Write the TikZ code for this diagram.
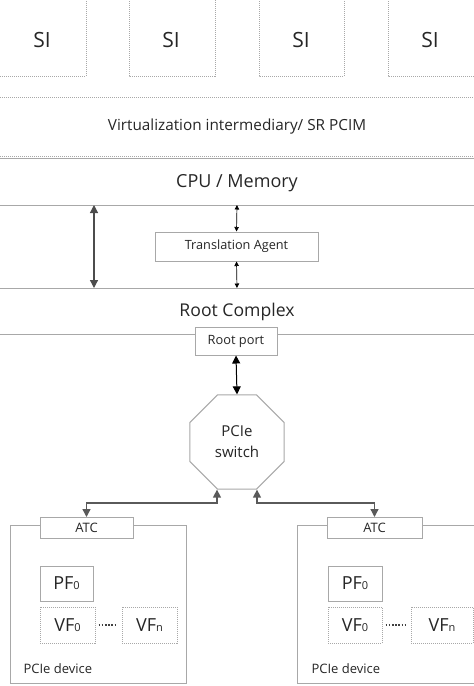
\documentclass[tikz,border=0pt]{standalone}
\usepackage{fontspec}
\setmainfont{Open Sans}
\usetikzlibrary{shapes.geometric,arrows.meta}

\definecolor{lgray}{HTML}{A8A8A8}
\definecolor{dgray}{HTML}{5A5A5A}
\definecolor{txt}{HTML}{262626}
\newcommand{\sub}[1]{{\fontsize{11}{11}\selectfont #1}}

\tikzset{
  layer/.style = {draw=lgray, line width=1pt},
  dotlayer/.style = {draw=lgray, line width=0.9pt, dash pattern=on 1pt off 1pt},
  box/.style = {draw=lgray, line width=1pt, fill=white, inner sep=0pt, text=txt},
  dotbox/.style = {box, dash pattern=on 1pt off 1pt},
  bigarrow/.style = {draw=dgray, line width=1.4pt, {Triangle[length=8pt,width=8pt]}-{Triangle[length=8pt,width=8pt]}},
  thinarrow/.style = {draw=black, line width=0.7pt, {Triangle[length=4.5pt,width=4.5pt]}-{Triangle[length=4.5pt,width=4.5pt]}},
}

\begin{document}
\begin{tikzpicture}[x=1pt, y=-1pt, text=txt]
      \useasboundingbox (0,0) rectangle (474,686);

      % system images
      \draw[dotlayer] (-5,-5) rectangle (86,76);
      \draw[dotlayer] (129,-5) rectangle (215,76);
      \draw[dotlayer] (259,-5) rectangle (344,76);
      \draw[dotlayer] (388,-5) rectangle (480,76);
      \foreach \x/\n in {42/1, 171/2, 301/3, 430/4}
        \node[font=\fontsize{21}{21}\selectfont] (si\n) at (\x,40) {SI};

      \draw[dotlayer] (0,97) -- (474,97);
      \node[font=\fontsize{15.3}{15.3}\selectfont] (vi) at (237,127) {Virtualization intermediary/ SR PCIM};
      \draw[dotlayer] (0,156) -- (474,156);
      \draw[layer] (0,158.5) -- (474,158.5);

      \node[font=\fontsize{18}{18}\selectfont] (cpu) at (237,183) {CPU / Memory};
      \draw[layer] (0,205) -- (474,205);
      \draw[layer] (0,288) -- (474,288);
      \node[font=\fontsize{17.6}{17.6}\selectfont] (rc) at (237,312) {Root Complex};
      \draw[layer] (0,334) -- (474,334);

      \node[box, minimum width=163pt, minimum height=29pt, font=\fontsize{12.7}{12.7}\selectfont] (ta) at (236.5,246.5) {Translation Agent};
      \node[box, minimum width=82pt, minimum height=28pt, font=\fontsize{12.8}{12.8}\selectfont] (rp) at (236,341) {Root port};

      \coordinate (cpuT) at (237,205);
      \coordinate (cpuB) at (237,288);
      \coordinate (bigT) at (94,205);
      \coordinate (bigB) at (94,288);
      \draw[thinarrow] (cpuT) -- (ta.north);
      \draw[thinarrow] (ta.south) -- (cpuB);
      \draw[bigarrow, draw=black!70, line width=1.2pt] (bigT) -- (bigB);

      % switch
      \node[draw=lgray, line width=1pt, fill=white, regular polygon, regular polygon sides=8,
            minimum size=102pt, inner sep=0pt, align=center, font=\fontsize{15}{21}\selectfont] (sw) at (237,442) {PCIe\\switch};
      \draw[bigarrow, draw=black, line width=1pt] (rp.south) -- (sw.north);

      % devices
      \node[box, minimum width=176pt, minimum height=158pt] (devL) at (98,604) {};
      \node[box, minimum width=177pt, minimum height=158pt] (devR) at (385.5,604) {};
      \node[box, minimum width=93pt, minimum height=21pt, font=\fontsize{13}{13}\selectfont] (atcL) at (86.5,528) {ATC};
      \node[box, minimum width=95pt, minimum height=21pt, font=\fontsize{13}{13}\selectfont] (atcR) at (374.5,528) {ATC};

      \coordinate (kL) at (217,503);
      \coordinate (kR) at (257,503);
      \draw[bigarrow, line width=1.3pt] (sw.south -| kL) -- (kL) -| (atcL.north);
      \draw[bigarrow, line width=1.3pt] (sw.south -| kR) -- (kR) -| (atcR.north);

      \node[box, minimum width=53pt, minimum height=35pt, font=\fontsize{18}{18}\selectfont] (pfL) at (66.5,583.5) {PF\sub{0}};
      \node[dotbox, minimum width=55pt, minimum height=36pt, font=\fontsize{18}{18}\selectfont] (vf0L) at (67.5,625) {VF\sub{0}};
      \node[dotbox, minimum width=55pt, minimum height=36pt, font=\fontsize{18}{18}\selectfont] (vfnL) at (149.5,625) {VF\sub{n}};
      \draw[black!75, line width=1.6pt, dash pattern=on 1.6pt off 1.6pt, shorten <=3pt, shorten >=4pt] (vf0L) -- (vfnL);
      \node[anchor=base west, font=\fontsize{13}{13}\selectfont] (txtL) at (20,673) {PCIe device};

      \node[box, minimum width=54pt, minimum height=35pt, font=\fontsize{18}{18}\selectfont] (pfR) at (355,583.5) {PF\sub{0}};
      \node[dotbox, minimum width=54pt, minimum height=36pt, font=\fontsize{18}{18}\selectfont] (vf0R) at (355,625) {VF\sub{0}};
      \node[dotbox, minimum width=62pt, minimum height=36pt, font=\fontsize{18}{18}\selectfont] (vfnR) at (442,625) {VF\sub{n}};
      \draw[black!75, line width=1.6pt, dash pattern=on 1.6pt off 1.6pt, shorten <=3pt, shorten >=4pt] (vf0R) -- (vfnR);
      \node[anchor=base west, font=\fontsize{13}{13}\selectfont] (txtR) at (308,673) {PCIe device};
    \end{tikzpicture}
\end{document}
